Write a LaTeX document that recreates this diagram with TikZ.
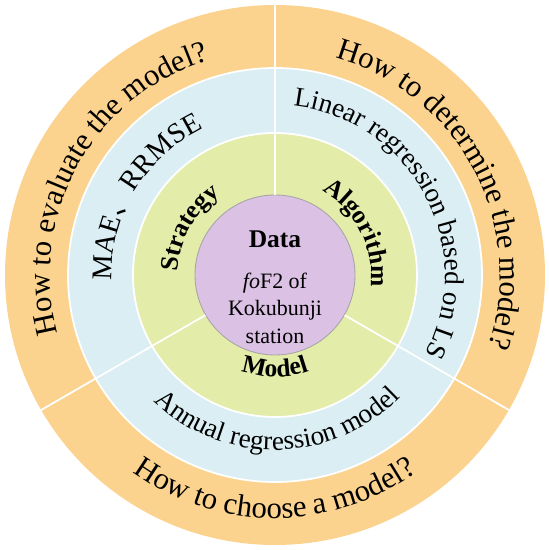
\documentclass[tikz,border=0pt]{standalone}
\usepackage{fontspec}
\setmainfont{Liberation Serif}
\newfontfamily\cjkfont{Noto Sans CJK SC}
\usepackage{tikz}
\usetikzlibrary{positioning, decorations.text}

\definecolor{ringorange}{HTML}{FBD38E}
\definecolor{ringblue}{HTML}{DAEEF3}
\definecolor{ringgreen}{HTML}{E3ECA9}
\definecolor{corepurple}{HTML}{DBC1E4}

\newcommand{\questionfont}{\fontsize{17.5}{21}\selectfont}
\newcommand{\answerfont}{\fontsize{15.5}{19}\selectfont}
\newcommand{\metricfont}{\fontsize{16.2}{19}\selectfont}
\newcommand{\stagefont}{\fontsize{14.5}{17}\selectfont\bfseries}

\begin{document}
\begin{tikzpicture}[
    ring/.style={draw=white, line width=1pt},
    divider/.style={draw=white, line width=1pt},
    core/.style={circle, fill=corepurple, draw=black!35, line width=0.5pt, minimum size=3.2cm, inner sep=0pt},
    arctext/.style={decorate, decoration={text along path, text align=center, text={#1}}},
]
\useasboundingbox (-5.5,-5.5) rectangle (5.48,5.5);

% ---- Rings ----
\fill[ringorange] (0,0) circle (5.4);
\draw[ring, fill=ringblue] (0,0) circle (4.14);
\draw[ring, fill=ringgreen] (0,0) circle (2.84);

% ---- Core ----
\node[core] (data) at (0,0) {};

% ---- Dividers ----
\draw[divider] (data.90) -- (90:5.4);
\draw[divider] (data.210) -- (210:5.4);
\draw[divider] (data.330) -- (330:5.4);

% ---- Core text ----
\node[font=\fontsize{14.5}{17}\selectfont\bfseries, anchor=base] (title) at (0,0.54) {Data};
\node[font=\fontsize{12.5}{15.6}\selectfont, align=center, anchor=north, inner sep=0pt] (station) at (0,0.05) {\textit{fo}F2 of\\Kokubunji\\station};

% ---- Outer ring: questions ----
\path[arctext={|\questionfont|How to evaluate the model?}] (236:4.5) arc[start angle=236, end angle=66, radius=4.5];
\path[arctext={|\questionfont|How to determine the model?}] (113:4.5) arc[start angle=113, end angle=-57, radius=4.5];
\path[arctext={|\questionfont|How to choose a model?}] (190:4.86) arc[start angle=190, end angle=350, radius=4.86];

% ---- Middle ring: answers ----
\path[arctext={|\metricfont|MAE|\metricfont\cjkfont|、|\metricfont\rmfamily|RRMSE}] (234:3.26) arc[start angle=234, end angle=64, radius=3.26];
\path[arctext={|\answerfont|Linear regression based on LS}] (113:3.4) arc[start angle=113, end angle=-57, radius=3.4];
\path[arctext={|\answerfont|Annual regression model}] (191:3.5) arc[start angle=191, end angle=351, radius=3.5];

% ---- Inner ring: stages ----
\path[arctext={|\stagefont|Strategy}] (236:1.94) arc[start angle=236, end angle=66, radius=1.94];
\path[arctext={|\stagefont|Algorithm}] (112:1.92) arc[start angle=112, end angle=-58, radius=1.92];
\path[arctext={|\stagefont|Model}] (190:2.04) arc[start angle=190, end angle=350, radius=2.04];

\end{tikzpicture}
\end{document}
